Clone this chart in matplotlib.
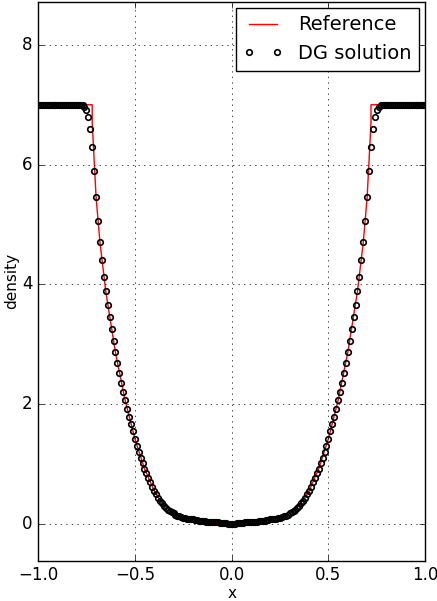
import numpy as np
import matplotlib
matplotlib.use("Agg")
import matplotlib.pyplot as plt

plt.style.use('classic')

# half-domain DG values at x = 0.00, 0.01, ..., 1.00
half_x = [round(0.01 * i, 2) for i in range(101)]
half_dg = [0.00,0.00,0.00,0.01,0.01,0.01,0.01,0.02,0.02,0.02,
           0.02,0.03,0.03,0.03,0.04,0.04,0.05,0.05,0.06,0.06,
           0.07,0.07,0.08,0.08,0.09,0.10,0.11,0.12,0.13,0.15,
           0.17,0.19,0.21,0.23,0.26,0.30,0.34,0.38,0.43,0.49,
           0.55,0.62,0.69,0.76,0.84,0.92,1.01,1.10,1.20,1.30,
           1.42,1.54,1.66,1.79,1.92,2.06,2.20,2.35,2.51,2.68,
           2.86,3.05,3.25,3.45,3.66,3.88,4.12,4.40,4.70,5.05,
           5.45,5.90,6.30,6.60,6.80,6.92,6.97,6.99,7.00,7.00,
           7.00,7.00,7.00,7.00,7.00,7.00,7.00,7.00,7.00,7.00,
           7.00,7.00,7.00,7.00,7.00,7.00,7.00,7.00,7.00,7.00,
           7.00]
ref_half_x = [0.00,0.10,0.20,0.25,0.30,0.35,0.40,0.45,0.50,0.55,0.60,0.65,0.68,0.70,0.72,0.72,1.00]
ref_half_y = [0.00,0.02,0.07,0.10,0.17,0.30,0.55,0.92,1.42,2.06,2.86,3.88,4.70,5.45,6.70,7.00,7.00]

dg_x = [-v for v in half_x[::-1]] + half_x[1:]
dg_y = half_dg[::-1] + half_dg[1:]
ref_x = [-v for v in ref_half_x[::-1]] + ref_half_x[1:]
ref_y = ref_half_y[::-1] + ref_half_y[1:]

fig = plt.figure(figsize=(4.37, 6.01), dpi=100, facecolor='white')
ax = fig.add_axes([0.087, 0.067, 0.886, 0.93])
ax.plot(ref_x, ref_y, 'r-', label='Reference')
ax.plot(dg_x, dg_y, 'o', mfc='none', mec='black', ms=4, mew=1.2, label='DG solution')
ax.set_xlim(-1, 1)
ax.set_ylim(-0.62, 8.72)
ax.set_xticks([-1, -0.5, 0, 0.5, 1])
ax.set_xticklabels(['−1.0', '−0.5', '0.0', '0.5', '1.0'])
ax.set_yticks([0, 2, 4, 6, 8])
ax.grid(True)
ax.set_xlabel('x', fontsize=11, labelpad=1)
ax.set_ylabel('density', fontsize=11, labelpad=2)
ax.tick_params(labelsize=12)
ax.legend(loc='upper right', fontsize=14, numpoints=2, borderaxespad=0.3)
fig.savefig('out.png', dpi=100, facecolor='white')
